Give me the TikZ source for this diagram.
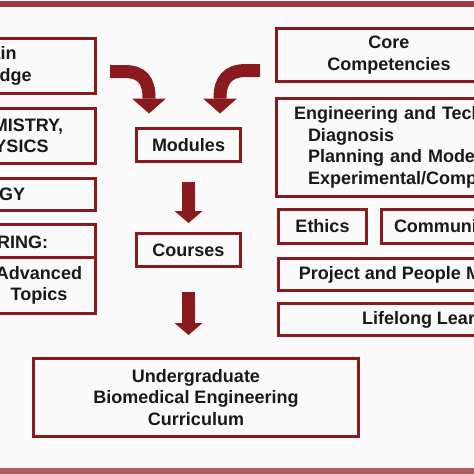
\documentclass[tikz,border=0pt]{standalone}
\usepackage{fontspec}
\setmainfont{Liberation Sans}
\usepackage{xcolor}
\usepackage{tikz}
\usetikzlibrary{arrows.meta}
\definecolor{bmered}{HTML}{8B1A1F}
\tikzstyle{block} = [draw=bmered,line width=3pt,rectangle,inner sep=0pt,align=center,text=black!90,font=\bfseries\fontsize{18}{21.5}\selectfont]
\tikzstyle{bigarrow} = [draw=bmered,line width=13pt,-{Triangle[width=28pt,length=12pt,line width=0pt]}]
\tikzstyle{bendarrow} = [draw=bmered,line width=13pt,-{Triangle[width=34pt,length=15pt,line width=0pt]}]

\begin{document}
\begin{tikzpicture}[x=1pt,y=-1pt]
    % basics
    \useasboundingbox (0,0) rectangle (474,474);
    \clip (0,0) rectangle (474,474);
    \fill[gray!4] (0,0) rectangle (474,474);
    \draw[bmered!85,line width=6pt] (0,3.5) -- (474,3.5);
    \draw[bmered!70,line width=6pt] (0,470.5) -- (474,470.5);
    % knowledge column
    \node[block,minimum width=223pt,minimum height=55pt] (dom) at (-16.5,66) {Domain\\Knowledge};
    \node[block,minimum width=172pt,minimum height=55pt] (sci) at (9,136) {CHEMISTRY,\\PHYSICS};
    \node[block,minimum width=223pt,minimum height=32pt] (bio) at (-16.5,194.5) {BIOLOGY};
    \node[block,minimum width=223pt,minimum height=89pt] (eng) at (-16.5,269) {};
    \node[text=black!90,font=\bfseries\fontsize{18}{21.5}\selectfont] (engl) at (-18,242) {ENGINEERING:};
    \node[block,minimum width=112pt,minimum height=56.5pt] (adv) at (39,285.25) {Advanced\\Topics};
    % curriculum
    \node[block,minimum width=104pt,minimum height=33pt] (mod) at (188.5,145) {Modules};
    \node[block,minimum width=104pt,minimum height=33pt] (crs) at (188.5,250) {Courses};
    \node[block,minimum width=325pt,minimum height=78pt] (ubme) at (196,397.5) {Undergraduate\\Biomedical Engineering\\Curriculum};
    % competencies column
    \node[block,minimum width=225pt,minimum height=53pt] (core) at (389,55) {Core\\Competencies};
    \node[block,minimum width=330pt,minimum height=98pt,text width=295pt,align=left] (etech) at (441.5,147.5) {Engineering and Technology\\\hspace*{14pt}Diagnosis\\\hspace*{14pt}Planning and Modeling\\\hspace*{14pt}Experimental/Computational};
    \node[block,minimum width=88pt,minimum height=34pt] (eth) at (322.5,226.5) {Ethics};
    \node[block,minimum width=161pt,minimum height=34pt] (comm) at (462,226.5) {Communication};
    \node[block,minimum width=318pt,minimum height=32pt] (ppm) at (437.5,274.5) {Project and People Management};
    \node[block,minimum width=318pt,minimum height=32pt] (lll) at (437.5,319.5) {Lifelong Learning};
    % arrows
    \coordinate (kin) at (110,71.5);
    \coordinate (cin) at (260,70.5);
    \draw[bendarrow] (kin) -- (124,71.5) .. controls (142,71.5) and (149,80) .. (149,98) -- ([xshift=-39.5pt,yshift=13.5pt]mod.north);
    \draw[bendarrow] (cin) -- (246,70.5) .. controls (228,70.5) and (220,80) .. (220,98) -- ([xshift=31.5pt,yshift=13.5pt]mod.north);
    \draw[bigarrow,shorten <=19pt,shorten >=9pt] (mod) -- (crs);
    \draw[bigarrow,shorten <=24pt,shorten >=22pt] (crs.south) -- (crs.south |- ubme.north);
\end{tikzpicture}
\end{document}
